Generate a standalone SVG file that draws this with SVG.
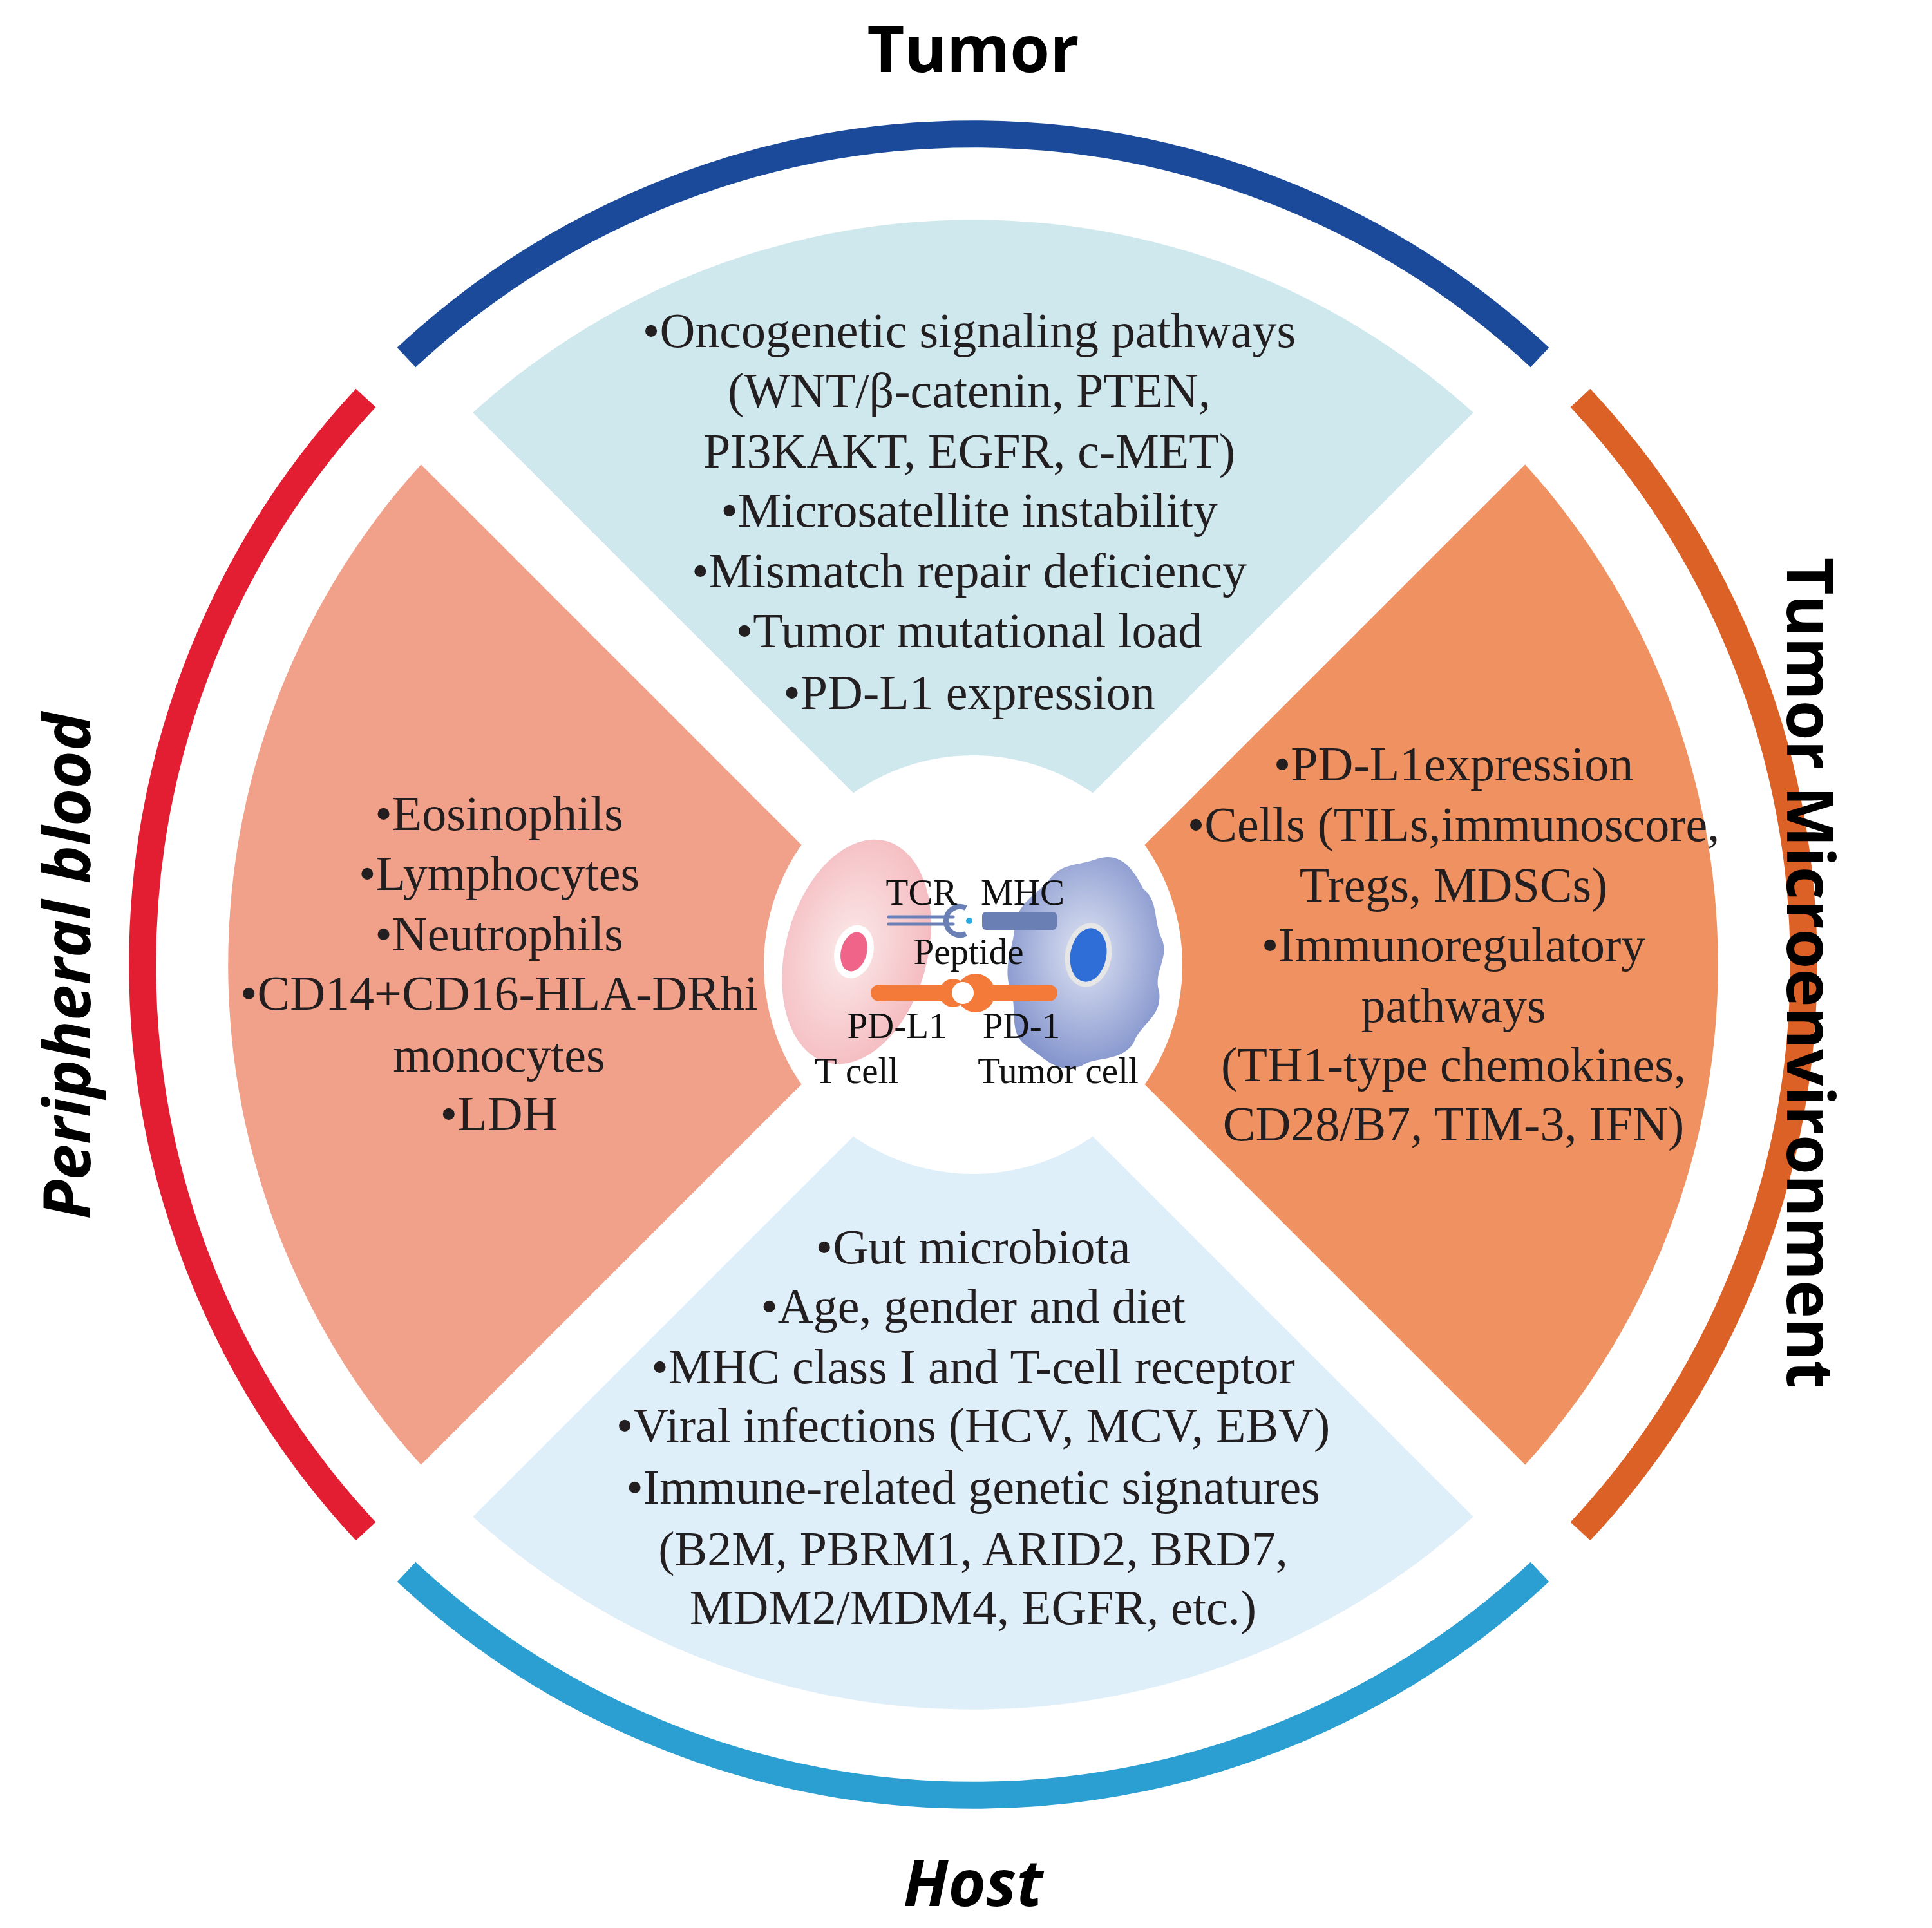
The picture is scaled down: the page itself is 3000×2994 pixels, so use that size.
<svg xmlns="http://www.w3.org/2000/svg" width="3000" height="2994" viewBox="0 0 3000 2994">
<style>
.b{font-family:"Liberation Serif",serif;font-size:76px;fill:#231f20;text-anchor:middle}
.s{font-family:"Liberation Serif",serif;font-size:57px;fill:#111;text-anchor:middle}
.t{font-family:"Open Sans","Liberation Sans",sans-serif;font-weight:bold;font-size:100px;fill:#000;text-anchor:middle}
.arc{fill:none;stroke-width:42}
</style>
<defs>
<radialGradient id="gp" cx="0.45" cy="0.5" r="0.6"><stop offset="0" stop-color="#fbeaea"/><stop offset="1" stop-color="#f4b8bd"/></radialGradient>
<radialGradient id="gb" cx="0.5" cy="0.45" r="0.6"><stop offset="0" stop-color="#dfe4f3"/><stop offset="1" stop-color="#7f90cb"/></radialGradient>
</defs>
<rect width="3000" height="2994" fill="#fff"/>
<g id="arcs">
<path class="arc" stroke="#1b4a9b" d="M631,555 A1290,1290 0 0 1 2391,555"/>
<path class="arc" stroke="#dc6127" d="M2454,618 A1290,1290 0 0 1 2454,2378"/>
<path class="arc" stroke="#2c9fd2" d="M2391,2441 A1290,1290 0 0 1 631,2441"/>
<path class="arc" stroke="#e31e33" d="M568,2378 A1290,1290 0 0 1 568,618"/>
</g>
<g id="sectors">
<path fill="#cfe8ee" d="M1511,1498 L693,680 A1157,1157 0 0 1 2329,680 Z"/>
<path fill="#ef9160" d="M1511,1498 L2329,680 A1157,1157 0 0 1 2329,2316 Z"/>
<path fill="#dfeff9" d="M1511,1498 L2329,2316 A1157,1157 0 0 1 693,2316 Z"/>
<path fill="#f1a08a" d="M1511,1498 L693,2316 A1157,1157 0 0 1 693,680 Z"/>
<rect x="311" y="1441" width="2400" height="114" fill="#fff" transform="rotate(45 1511 1498)"/>
<rect x="311" y="1441" width="2400" height="114" fill="#fff" transform="rotate(-45 1511 1498)"/>
<circle cx="1511" cy="1498" r="325" fill="#fff"/>
</g>
<g id="tumor">
<text class="t" x="1511" y="112">Tumor</text>
<text class="b" x="1505" y="539">•Oncogenetic signaling pathways</text>
<text class="b" x="1505" y="632">(WNT/β-catenin, PTEN,</text>
<text class="b" x="1505" y="726">PI3KAKT, EGFR, c-MET)</text>
<text class="b" x="1505" y="818">•Microsatellite instability</text>
<text class="b" x="1505" y="912">•Mismatch repair deficiency</text>
<text class="b" x="1505" y="1005">•Tumor mutational load</text>
<text class="b" x="1505" y="1101">•PD-L1 expression</text>
</g>
<g id="peripheral-blood">
<text class="t" font-style="italic" transform="translate(140,1500) rotate(-90)">Peripheral blood</text>
<text class="b" x="775" y="1289">•Eosinophils</text>
<text class="b" x="775" y="1382">•Lymphocytes</text>
<text class="b" x="775" y="1476">•Neutrophils</text>
<text class="b" x="775" y="1568">•CD14+CD16-HLA-DRhi</text>
<text class="b" x="775" y="1664">monocytes</text>
<text class="b" x="775" y="1755">•LDH</text>
</g>
<g id="tme">
<text class="t" transform="translate(2775,1511) rotate(90)">Tumor Microenvironment</text>
<text class="b" x="2257" y="1212">•PD-L1expression</text>
<text class="b" x="2257" y="1306">•Cells (TILs,immunoscore,</text>
<text class="b" x="2257" y="1400">Tregs, MDSCs)</text>
<text class="b" x="2257" y="1493">•Immunoregulatory</text>
<text class="b" x="2257" y="1587">pathways</text>
<text class="b" x="2257" y="1679">(TH1-type chemokines,</text>
<text class="b" x="2257" y="1771">CD28/B7, TIM-3, IFN)</text>
</g>
<g id="host">
<text class="t" font-style="italic" x="1511" y="2960">Host</text>
<text class="b" x="1511" y="1962">•Gut microbiota</text>
<text class="b" x="1511" y="2054">•Age, gender and diet</text>
<text class="b" x="1511" y="2148">•MHC class I and T-cell receptor</text>
<text class="b" x="1511" y="2239">•Viral infections (HCV, MCV, EBV)</text>
<text class="b" x="1511" y="2335">•Immune-related genetic signatures</text>
<text class="b" x="1511" y="2431">(B2M, PBRM1, ARID2, BRD7,</text>
<text class="b" x="1511" y="2522">MDM2/MDM4, EGFR, etc.)</text>
</g>
<g id="center">
<ellipse cx="1330" cy="1478" rx="110" ry="178" fill="url(#gp)" transform="rotate(15 1330 1478)"/>
<ellipse cx="1326" cy="1478" rx="30" ry="42" fill="#fff" transform="rotate(15 1326 1478)"/>
<ellipse cx="1326" cy="1478" rx="20" ry="31" fill="#f0648a" transform="rotate(15 1326 1478)"/>
<path fill="url(#gb)" d="M1700,1335 C1740,1320 1760,1350 1775,1380 C1800,1400 1790,1430 1805,1460 C1815,1490 1790,1510 1800,1540 C1805,1580 1770,1590 1760,1620 C1740,1650 1700,1640 1680,1655 C1640,1670 1620,1640 1595,1625 C1565,1605 1580,1570 1570,1540 C1555,1500 1575,1470 1575,1440 C1580,1400 1610,1390 1630,1365 C1650,1340 1670,1345 1700,1335 Z"/>
<ellipse cx="1690" cy="1483" rx="36" ry="50" fill="#e6e6e6" transform="rotate(10 1690 1483)"/>
<ellipse cx="1690" cy="1483" rx="28" ry="42" fill="#2f6ed6" transform="rotate(10 1690 1483)"/>
<line x1="1380" y1="1424" x2="1480" y2="1424" stroke="#6a80b4" stroke-width="5" stroke-linecap="round"/>
<line x1="1380" y1="1435" x2="1480" y2="1435" stroke="#6a80b4" stroke-width="5" stroke-linecap="round"/>
<path d="M1500,1410 A22,22 0 1 0 1500,1450" fill="none" stroke="#6a80b4" stroke-width="8"/>
<rect x="1525" y="1416" width="116" height="28" rx="6" fill="#6a80b4"/>
<circle cx="1508" cy="1430" r="17" fill="#fff"/>
<circle cx="1505" cy="1430" r="5" fill="#29a8e0"/>
<rect x="1352" y="1529" width="150" height="26" rx="13" fill="#f47a3a"/>
<circle cx="1480" cy="1542" r="22" fill="#f47a3a"/>
<rect x="1520" y="1529" width="122" height="26" rx="13" fill="#f47a3a"/>
<circle cx="1515" cy="1542" r="30" fill="#f47a3a"/>
<circle cx="1495" cy="1542" r="17" fill="#fff"/>
<text class="s" x="1431" y="1405">TCR</text>
<text class="s" x="1588" y="1405">MHC</text>
<text class="s" x="1504" y="1497">Peptide</text>
<text class="s" x="1393" y="1612">PD-L1</text>
<text class="s" x="1586" y="1612">PD-1</text>
<text class="s" x="1330" y="1682">T cell</text>
<text class="s" x="1643" y="1682">Tumor cell</text>
</g>
</svg>
